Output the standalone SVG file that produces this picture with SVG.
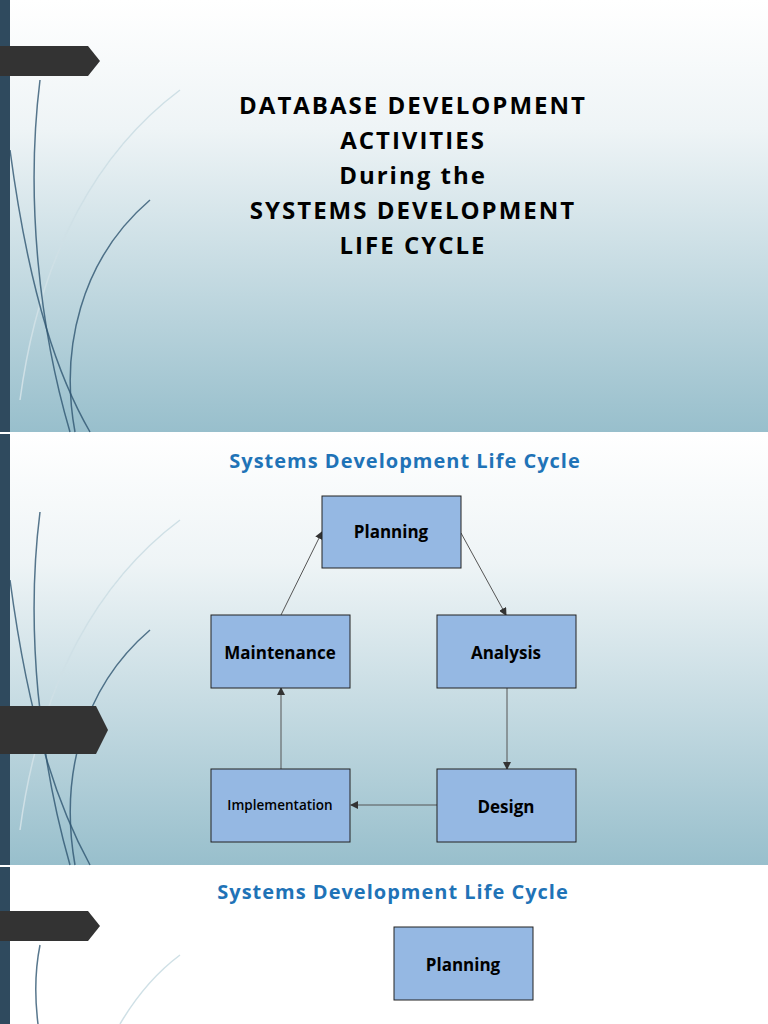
<svg xmlns="http://www.w3.org/2000/svg" width="768" height="1024" viewBox="0 0 768 1024">
<defs>
<linearGradient id="bg" x1="0" y1="0" x2="0" y2="1"><stop offset="0" stop-color="#ffffff"/><stop offset="0.3" stop-color="#eef4f6"/><stop offset="1" stop-color="#98bfcc"/></linearGradient>
<marker id="ah" markerWidth="8" markerHeight="8" refX="7" refY="4" orient="auto" markerUnits="userSpaceOnUse"><path d="M0,0 L8,4 L0,8 z" fill="#333"/></marker>
</defs>
<style>
.box{fill:#95b8e3;stroke:#222;stroke-width:1}
.t{font-family:"Open Sans","Liberation Sans",sans-serif;font-weight:bold;fill:#000;text-anchor:middle}
.tt{letter-spacing:2px}
.h{font-family:"Open Sans","Liberation Sans",sans-serif;font-weight:bold;fill:#1f73b7;text-anchor:middle;font-size:20px;letter-spacing:1px}
.c{stroke:#555;stroke-width:1;fill:none;marker-end:url(#ah)}
.sw{fill:none;stroke:#2e5570;stroke-width:1.5;opacity:0.8}
.sl{fill:none;stroke:#cfe0e6;stroke-width:1.5}
</style>
<rect width="768" height="1024" fill="#fff"/>
<g id="slide1">
<rect x="0" y="0" width="768" height="432" fill="url(#bg)"/>
<path class="sl" d="M20,400 C40,250 100,150 180,90"/>
<path class="sw" d="M10,150 C30,300 60,380 90,432"/>
<path class="sw" d="M40,80 C25,200 40,330 70,432"/>
<path class="sw" d="M150,200 C80,260 60,350 75,432"/>
<rect x="0" y="0" width="10" height="432" fill="#2f4a5e"/>
<path d="M0,46 H88 L100,61 L88,76 H0 z" fill="#333"/>
<text class="t tt" font-size="24" x="413" y="114">DATABASE DEVELOPMENT</text>
<text class="t tt" font-size="24" x="413" y="149">ACTIVITIES</text>
<text class="t tt" font-size="24" x="413" y="184">During the</text>
<text class="t tt" font-size="24" x="413" y="219">SYSTEMS DEVELOPMENT</text>
<text class="t tt" font-size="24" x="413" y="254">LIFE CYCLE</text>
</g>
<g id="slide2">
<rect x="0" y="434" width="768" height="431" fill="url(#bg)"/>
<path class="sl" d="M20,830 C40,680 100,580 180,520"/>
<path class="sw" d="M10,580 C30,730 60,810 90,865"/>
<path class="sw" d="M40,512 C25,630 40,760 70,865"/>
<path class="sw" d="M150,630 C80,690 60,780 75,865"/>
<rect x="0" y="434" width="10" height="431" fill="#2f4a5e"/>
<path d="M0,706 H96 L108,730 L96,754 H0 z" fill="#333"/>
<text class="h" x="405" y="468">Systems Development Life Cycle</text>
<g id="connectors">
<line class="c" x1="461" y1="533" x2="506" y2="615"/>
<line class="c" x1="507" y1="688" x2="507" y2="769"/>
<line class="c" x1="437" y1="805" x2="351" y2="805"/>
<line class="c" x1="281" y1="769" x2="281" y2="688"/>
<line class="c" x1="281" y1="615" x2="322" y2="532"/>
</g>
<g id="planning"><rect class="box" x="322" y="496" width="139" height="72"/><text class="t" font-size="17" x="391" y="538">Planning</text></g>
<g id="analysis"><rect class="box" x="437" y="615" width="139" height="73"/><text class="t" font-size="17" x="506" y="659">Analysis</text></g>
<g id="maintenance"><rect class="box" x="211" y="615" width="139" height="73"/><text class="t" font-size="17" x="280" y="659">Maintenance</text></g>
<g id="design"><rect class="box" x="437" y="769" width="139" height="73"/><text class="t" font-size="17" x="506" y="813">Design</text></g>
<g id="implementation"><rect class="box" x="211" y="769" width="139" height="73"/><text class="t" font-size="13.5" x="280" y="810" style="font-weight:600">Implementation</text></g>
</g>
<g id="slide3">
<rect x="0" y="867" width="768" height="157" fill="#ffffff"/>
<path class="sl" d="M120,1024 C140,990 160,970 180,955"/>
<path class="sw" d="M40,945 C35,970 35,1000 38,1024"/>
<rect x="0" y="867" width="10" height="157" fill="#2f4a5e"/>
<path d="M0,911 H88 L100,926 L88,941 H0 z" fill="#333"/>
<text class="h" x="393" y="899">Systems Development Life Cycle</text>
<g id="planning2"><rect class="box" x="394" y="927" width="139" height="73"/><text class="t" font-size="17" x="463" y="971">Planning</text></g>
</g>
</svg>
